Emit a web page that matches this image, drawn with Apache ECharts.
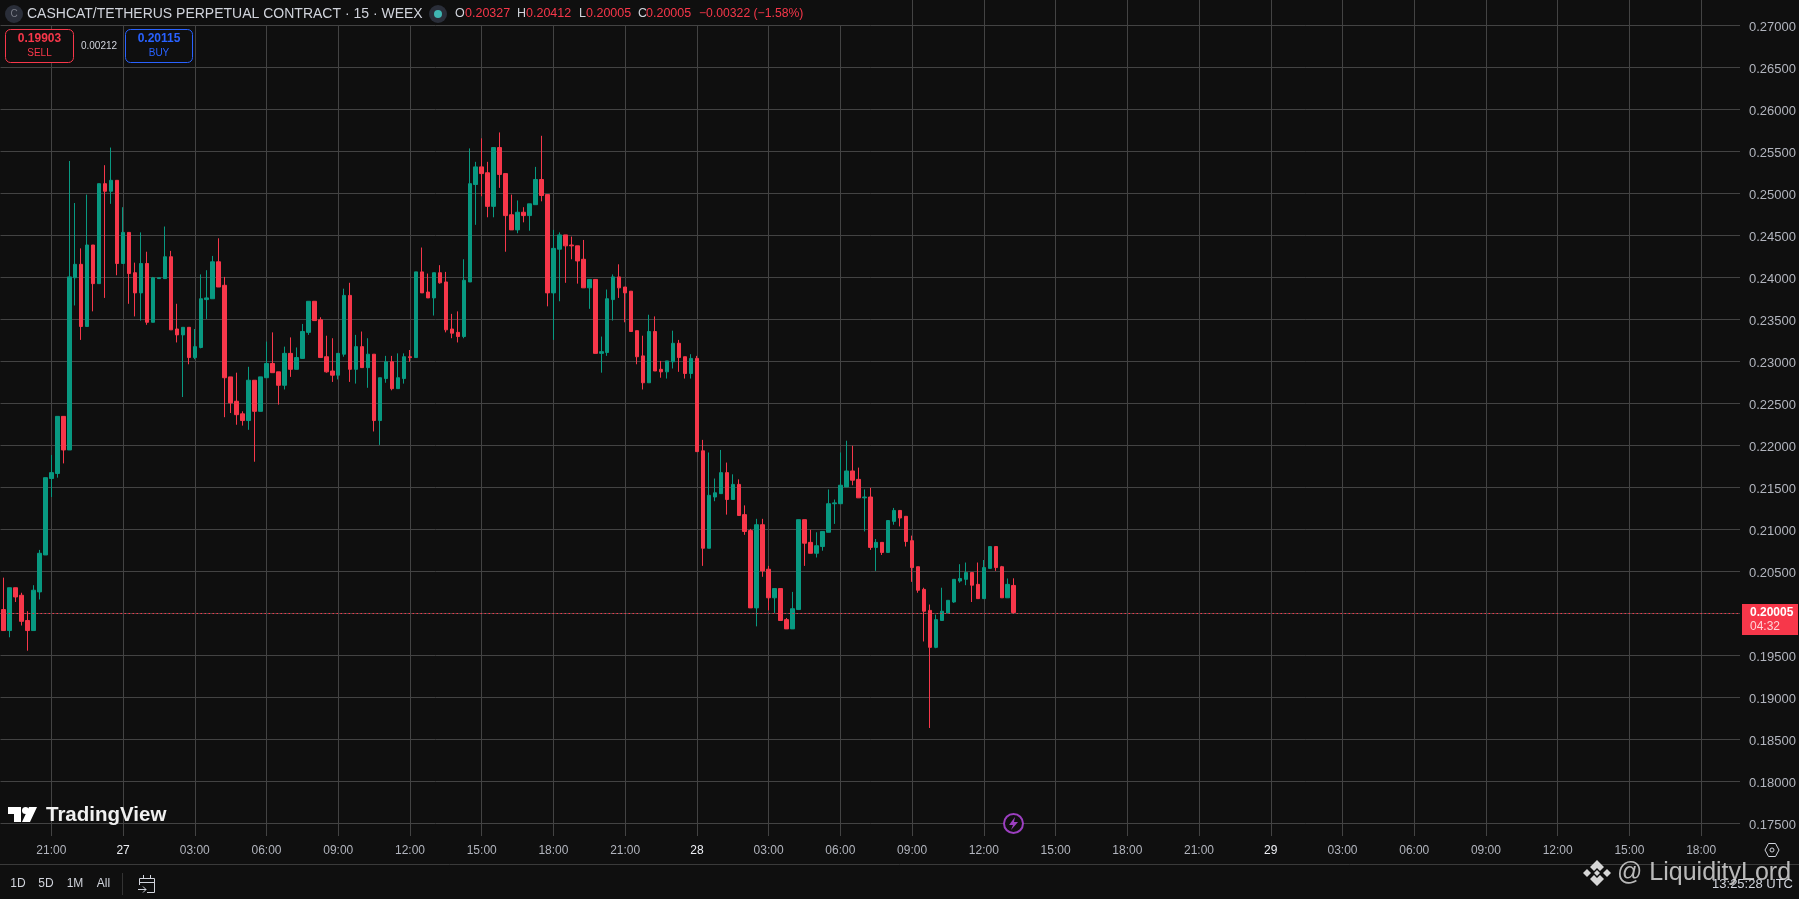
<!DOCTYPE html>
<html>
<head>
<meta charset="utf-8">
<style>html,body{margin:0;padding:0;background:#0f0f0f;overflow:hidden}#c{width:1799px;height:899px}</style>
<script src="https://cdn.jsdelivr.net/npm/echarts@6/dist/echarts.min.js"></script>
</head>
<body>
<div id="c"></div>
<script>
const opens=[.2004,.1979,.2030,.2021,.1991,.1979,.2025,.2069,.2160,.2166,.2234,.2194,.2399,.2415,.2341,.2438,.2392,.2511,.2502,.2515,
.2416,.2453,.2405,.2381,.2416,.2346,.2398,.2398,.2424,.2338,.2331,.2340,.2304,.2316,.2373,.2374,.2418,.2390,.2281,.2252,
.2237,.2229,.2277,.2240,.2280,.2297,.2287,.2271,.2309,.2290,.2303,.2334,.2371,.2349,.2305,.2288,.2283,.2308,.2378,.2290,
.2317,.2292,.2308,.2229,.2279,.2299,.2267,.2279,.2305,.2304,.2406,.2382,.2375,.2405,.2394,.2338,.2334,.2329,.2394,.2510,
.2531,.2524,.2484,.2554,.2523,.2474,.2456,.2477,.2473,.2486,.2516,.2498,.2381,.2433,.2450,.2438,.2437,.2421,.2387,.2397,
.2309,.2310,.2373,.2400,.2388,.2383,.2336,.2306,.2274,.2335,.2290,.2287,.2299,.2321,.2305,.2285,.2303,.2193,.2077,.2138,
.2142,.2167,.2135,.2153,.2117,.2098,.2006,.2105,.2052,.2018,.2029,.1992,.1981,.2004,.2111,.2084,.2071,.2079,.2096,.2130,
.2130,.2150,.2169,.2159,.2137,.2138,.2078,.2084,.2072,.2109,.2122,.2115,.2086,.2055,.2028,.2003,.1959,.1991,.2000,.2013,
.2038,.2040,.2048,.2034,.2017,.2053,.2079,.2055,.2018,.20327];
const closes=[.1979,.2030,.2019,.1990,.1979,.2027,.2071,.2161,.2167,.2234,.2194,.2400,.2415,.2341,.2438,.2392,.2511,.2502,.2515,.2416,
.2453,.2404,.2381,.2416,.2346,.2399,.2399,.2424,.2337,.2331,.2340,.2304,.2317,.2374,.2375,.2418,.2388,.2280,.2250,.2236,
.2229,.2277,.2240,.2281,.2297,.2286,.2271,.2309,.2290,.2304,.2335,.2371,.2348,.2304,.2287,.2283,.2309,.2378,.2290,.2317,
.2292,.2308,.2229,.2280,.2299,.2267,.2280,.2305,.2304,.2406,.2381,.2375,.2405,.2393,.2337,.2333,.2329,.2396,.2511,.2531,
.2523,.2484,.2554,.2522,.2473,.2456,.2477,.2473,.2487,.2516,.2497,.2381,.2434,.2450,.2437,.2437,.2419,.2387,.2397,.2309,
.2311,.2374,.2400,.2387,.2381,.2335,.2305,.2274,.2335,.2288,.2287,.2300,.2321,.2304,.2285,.2303,.2192,.2077,.2140,.2143,
.2167,.2135,.2153,.2116,.2097,.2006,.2105,.2050,.2018,.2029,.1991,.1981,.2005,.2111,.2083,.2071,.2080,.2097,.2130,.2131,
.2152,.2169,.2158,.2137,.2138,.2078,.2084,.2072,.2110,.2122,.2113,.2085,.2054,.2027,.2002,.1959,.1992,.2002,.2015,.2040,
.2041,.2048,.2033,.2017,.2054,.2079,.2054,.2018,.2034,.20005];
const lows=[.1979,.1971,.2013,.1985,.1955,.1979,.2016,.2069,.2138,.2161,.2178,.2194,.2366,.2325,.2341,.2359,.2392,.2375,.2487,.2402,
.2416,.2368,.2353,.2348,.2343,.2346,.2398,.2398,.2337,.2322,.2257,.2296,.2302,.2315,.2350,.2374,.2388,.2233,.2238,.2224,
.2223,.2218,.2180,.2240,.2280,.2286,.2248,.2266,.2281,.2290,.2303,.2331,.2348,.2304,.2286,.2275,.2278,.2305,.2275,.2273,
.2292,.2268,.2216,.2200,.2274,.2265,.2267,.2273,.2299,.2304,.2381,.2375,.2354,.2392,.2334,.2327,.2322,.2327,.2394,.2462,
.2496,.2471,.2471,.2506,.2430,.2456,.2452,.2465,.2455,.2486,.2490,.2365,.2325,.2371,.2393,.2421,.2392,.2387,.2362,.2309,
.2286,.2306,.2348,.2375,.2346,.2335,.2296,.2266,.2274,.2288,.2280,.2279,.2291,.2287,.2279,.2279,.2192,.2056,.2077,.2133,
.2142,.2117,.2135,.2116,.2093,.2006,.1984,.2043,.2003,.2000,.1991,.1981,.1981,.2004,.2056,.2071,.2066,.2074,.2096,.2106,
.2130,.2150,.2152,.2137,.2097,.2075,.2050,.2069,.2072,.2105,.2103,.2079,.2037,.2024,.1966,.1863,.1958,.1991,.2000,.2012,
.2036,.2033,.2013,.2017,.2017,.2053,.2050,.2018,.2018,.20005];
const highs=[.2042,.2030,.2030,.2024,.2002,.2033,.2075,.2161,.2188,.2234,.2234,.2538,.2488,.2434,.2498,.2438,.2511,.2533,.2554,.2515,
.2483,.2453,.2417,.2453,.2430,.2400,.2399,.2460,.2431,.2368,.2340,.2340,.2338,.2403,.2408,.2425,.2446,.2400,.2281,.2286,
.2240,.2293,.2277,.2281,.2323,.2334,.2287,.2317,.2328,.2316,.2344,.2371,.2371,.2352,.2330,.2327,.2309,.2386,.2393,.2331,
.2335,.2327,.2308,.2280,.2306,.2306,.2309,.2309,.2313,.2406,.2435,.2404,.2405,.2414,.2406,.2356,.2359,.2421,.2553,.2537,
.2565,.2537,.2554,.2572,.2523,.2498,.2491,.2483,.2487,.2531,.2568,.2498,.2456,.2453,.2450,.2448,.2437,.2444,.2397,.2397,
.2329,.2385,.2403,.2415,.2388,.2383,.2336,.2330,.2355,.2353,.2300,.2300,.2336,.2325,.2305,.2308,.2306,.2206,.2191,.2160,
.2194,.2179,.2165,.2159,.2128,.2100,.2112,.2112,.2056,.2029,.2029,.1994,.2025,.2111,.2111,.2099,.2096,.2097,.2147,.2135,
.2191,.2205,.2199,.2173,.2147,.2149,.2088,.2084,.2110,.2125,.2122,.2115,.2092,.2055,.2030,.2010,.1998,.2030,.2015,.2040,
.2058,.2060,.2048,.2060,.2063,.2079,.2079,.2056,.2041,.20412];
const priceTicks=[.175,.18,.185,.19,.195,.2,.205,.21,.215,.22,.225,.23,.235,.24,.245,.25,.255,.26,.265,.27];
const timeTicks=['21:00','27','03:00','06:00','09:00','12:00','15:00','18:00','21:00','28','03:00','06:00','09:00','12:00','15:00','18:00','21:00','29','03:00','06:00','09:00','12:00','15:00','18:00'];
const lastPrice=.20005;
const slotCount=291, firstTickSlot=8, slotsPerTick=12;

const BG='#0f0f0f',GRID='#434343',UP='#089981',DOWN='#f7374a',TXT='#b2b5be',HEAD='#d1d4dc';
const FONT='"Liberation Sans",Arial,sans-serif';
const isTick=i=>i>=firstTickSlot&&(i-firstTickSlot)%slotsPerTick===0&&(i-firstTickSlot)/slotsPerTick<timeTicks.length;
const slots=Array.from({length:slotCount},(_,i)=>isTick(i)?timeTicks[(i-firstTickSlot)/slotsPerTick]+'#'+i:'s'+i);
const candles=opens.map((o,i)=>[o,closes[i],lows[i],highs[i]]);

const txt=(x,y,text,fill,size,extra)=>Object.assign({type:'text',z:20,style:Object.assign({x,y,text,fill,font:`${size}px ${FONT}`,textAlign:'left',textVerticalAlign:'middle'},extra&&extra.style||{})},extra&&extra.top||{});
const poly=(pts,fill,z)=>({type:'polygon',z:z||20,shape:{points:pts},style:{fill}});
const strk=(pts,color)=>({type:'polyline',z:20,shape:{points:pts},style:{fill:'none',stroke:color,lineWidth:1}});

const graphics=[
 {type:'rect',z:10,shape:{x:0,y:0,width:850,height:25},style:{fill:BG}},
 {type:'circle',z:20,shape:{cx:14,cy:14,r:9},style:{fill:'#2a2e39'}},
 txt(14,14.5,'C','#787b86',10,{style:{textAlign:'center'}}),
 txt(27,14,'CASHCAT/TETHERUS PERPETUAL CONTRACT · 15 · WEEX',HEAD,14),
 {type:'circle',z:20,shape:{cx:438,cy:14,r:9},style:{fill:'#2a2e39'}},
 {type:'circle',z:21,shape:{cx:438,cy:14,r:4},style:{fill:'#3fb6b2'}},
 txt(455,14,'O',HEAD,12.5), txt(465,14,'0.20327',DOWN,12.5),
 txt(517,14,'H',HEAD,12.5), txt(526,14,'0.20412',DOWN,12.5),
 txt(579,14,'L',HEAD,12.5), txt(586,14,'0.20005',DOWN,12.5),
 txt(638,14,'C',HEAD,12.5), txt(646,14,'0.20005',DOWN,12.5),
 txt(699,14,'−0.00322 (−1.58%)',DOWN,12.2),
 {type:'rect',z:20,shape:{x:5.5,y:29.5,width:68,height:33,r:5},style:{fill:BG,stroke:DOWN,lineWidth:1}},
 txt(39.5,39,'0.19903',DOWN,12,{style:{textAlign:'center',font:`bold 12px ${FONT}`}}),
 txt(39.5,53,'SELL',DOWN,10,{style:{textAlign:'center'}}),
 txt(99,46,'0.00212',HEAD,10,{style:{textAlign:'center'}}),
 {type:'rect',z:20,shape:{x:125.5,y:29.5,width:67,height:33,r:5},style:{fill:BG,stroke:'#2962ff',lineWidth:1}},
 txt(159,39,'0.20115','#2962ff',12,{style:{textAlign:'center',font:`bold 12px ${FONT}`}}),
 txt(159,53,'BUY','#2962ff',10,{style:{textAlign:'center'}}),
 poly([[8,807],[21,807],[21,822],[14,822],[14,814],[8,814]],'#fff'),
 poly([[37,807],[30,822],[22,822],[29,807]],'#fff'),
 {type:'circle',z:20,shape:{cx:25.5,cy:810.5,r:3.5},style:{fill:'#fff'}},
 txt(46,815,'TradingView','#f0f0f0',20.5,{style:{font:`bold 20.5px ${FONT}`}}),
 {type:'circle',z:20,shape:{cx:1013.5,cy:823.5,r:9.5},style:{fill:BG,stroke:'#9c3fc0',lineWidth:2}},
 poly([[1015,817],[1009,825],[1013,825],[1011,830],[1018,822],[1014,822]],'#9c3fc0',21),
 {type:'line',z:20,shape:{x1:0,y1:864.5,x2:1799,y2:864.5},style:{stroke:'#3a3a3a',lineWidth:1}},
 txt(18,884,'1D',HEAD,12,{style:{textAlign:'center'}}),
 txt(46,884,'5D',HEAD,12,{style:{textAlign:'center'}}),
 txt(75,884,'1M',HEAD,12,{style:{textAlign:'center'}}),
 txt(103.5,884,'All',HEAD,12,{style:{textAlign:'center'}}),
 {type:'line',z:20,shape:{x1:122.5,y1:873,x2:122.5,y2:895},style:{stroke:'#333',lineWidth:1}},
 strk([[147,892.5],[154.5,892.5],[154.5,878.5],[139.5,878.5],[139.5,885]],HEAD),
 strk([[139.5,882.5],[154.5,882.5]],HEAD),
 strk([[143.5,875],[143.5,879]],HEAD),
 strk([[150.5,875],[150.5,879]],HEAD),
 strk([[138,889.5],[146,889.5]],HEAD),
 strk([[143,886.5],[146,889.5],[143,892.5]],HEAD),
 {type:'rect',z:20,shape:{x:1742,y:604,width:56,height:31},style:{fill:DOWN}},
 txt(1750,612.5,'0.20005','#ffffff',12,{style:{font:`bold 12px ${FONT}`}}),
 txt(1750,627,'04:32','#ffd3d7',12),
 {type:'polygon',z:20,shape:{points:[[1765,850],[1768.5,843.5],[1775.5,843.5],[1779,850],[1775.5,856.5],[1768.5,856.5]]},style:{fill:'none',stroke:HEAD,lineWidth:1}},
 {type:'circle',z:20,shape:{cx:1772,cy:850,r:2},style:{fill:'none',stroke:HEAD,lineWidth:1}},
 txt(1793,884,'13:25:28 UTC',HEAD,13,{style:{textAlign:'right'}}),
 poly([[1597,860],[1604,867],[1600,871],[1597,868],[1594,871],[1590,867]],'#d6d6d6',22),
 poly([[1597,886],[1590,879],[1594,875],[1597,878],[1600,875],[1604,879]],'#d6d6d6',22),
 poly([[1583,873],[1587,869],[1591,873],[1587,877]],'#d6d6d6',22),
 poly([[1611,873],[1607,869],[1603,873],[1607,877]],'#d6d6d6',22),
 poly([[1597,870],[1600,873],[1597,876],[1594,873]],'#d6d6d6',22),
 txt(1617,873,'@ LiquidityLord','rgba(215,215,215,.85)',25,{top:{z:22}})
];

const chart=echarts.init(document.getElementById('c'),null,{renderer:'canvas',width:1799,height:899});
chart.setOption({
 animation:false,
 backgroundColor:BG,
 grid:{left:0.51,top:0,width:1739.6,height:836,containLabel:false},
 xAxis:{type:'category',data:slots,boundaryGap:true,
  axisLine:{show:false},axisTick:{show:false,alignWithLabel:true,interval:i=>isTick(i)},
  splitLine:{show:true,alignWithLabel:true,interval:i=>isTick(i),lineStyle:{color:GRID,width:1}},
  axisLabel:{show:true,interval:i=>isTick(i),margin:9,color:TXT,fontSize:12,fontFamily:FONT,hideOverlap:false,
   formatter:v=>{const t=v.split('#')[0];return /^\d\d$/.test(t)?'{d|'+t+'}':t},
   rich:{d:{color:'#eef0f5',fontSize:12,fontFamily:FONT}}}},
 yAxis:{type:'value',position:'right',min:0.1734428,max:0.2729668,scale:true,
  axisLine:{show:false},axisTick:{show:false,customValues:priceTicks},
  splitLine:{show:true,lineStyle:{color:GRID,width:1}},
  axisLabel:{show:true,customValues:priceTicks,inside:false,margin:9,verticalAlign:'top',lineHeight:5,color:TXT,fontSize:13,fontFamily:FONT,formatter:v=>v.toFixed(5)}},
 series:[{type:'candlestick',data:candles,barWidth:4,
  itemStyle:{color:UP,color0:DOWN,borderColor:UP,borderColor0:DOWN,borderWidth:1},
  markLine:{silent:true,symbol:'none',label:{show:false},animation:false,
   lineStyle:{color:DOWN,type:[1.5,2.5],width:1},data:[{yAxis:lastPrice}]}}],
 graphic:graphics
});
</script>
</body>
</html>
